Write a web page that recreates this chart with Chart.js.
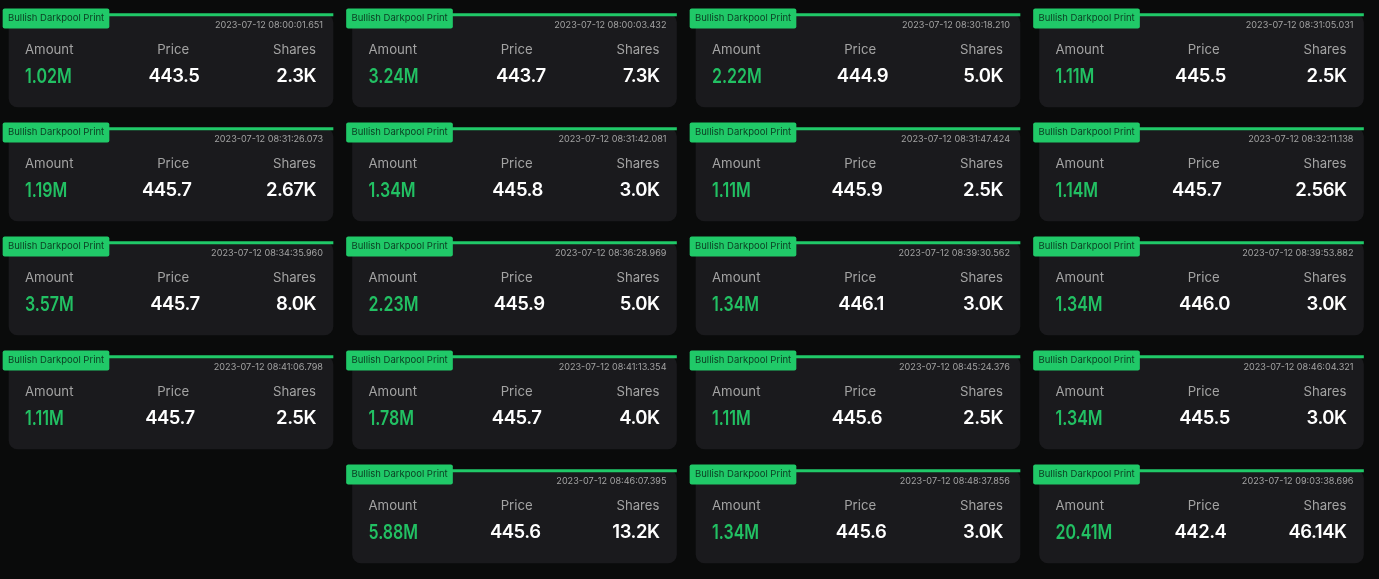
<!DOCTYPE html>
<html>
<head>
<meta charset="utf-8">
<title>Bullish Darkpool Prints</title>
<script src="https://cdn.jsdelivr.net/npm/chart.js@4"></script>
<style>
    html, body { margin: 0; background: #0a0b0b; overflow: hidden; }
    canvas { display: block; }
</style>
</head>
<body>
<canvas id="prints" width="1379" height="579"></canvas>
<script>
var badgeLabel = 'Bullish Darkpool Print';
var fieldLabels = ['Amount', 'Price', 'Shares'];

var times = [
    '2023-07-12 08:00:01.651', '2023-07-12 08:00:03.432', '2023-07-12 08:30:18.210', '2023-07-12 08:31:05.031',
    '2023-07-12 08:31:26.073', '2023-07-12 08:31:42.081', '2023-07-12 08:31:47.424', '2023-07-12 08:32:11.138',
    '2023-07-12 08:34:35.960', '2023-07-12 08:36:28.969', '2023-07-12 08:39:30.562', '2023-07-12 08:39:53.882',
    '2023-07-12 08:41:06.798', '2023-07-12 08:41:13.354', '2023-07-12 08:45:24.376', '2023-07-12 08:46:04.321',
    '2023-07-12 08:46:07.395', '2023-07-12 08:48:37.856', '2023-07-12 09:03:38.696'
];
var amounts = [
    '1.02M', '3.24M', '2.22M', '1.11M',
    '1.19M', '1.34M', '1.11M', '1.14M',
    '3.57M', '2.23M', '1.34M', '1.34M',
    '1.11M', '1.78M', '1.11M', '1.34M',
    '5.88M', '1.34M', '20.41M'
];
var prices = [
    '443.5', '443.7', '444.9', '445.5',
    '445.7', '445.8', '445.9', '445.7',
    '445.7', '445.9', '446.1', '446.0',
    '445.7', '445.7', '445.6', '445.5',
    '445.6', '445.6', '442.4'
];
var shares = [
    '2.3K', '7.3K', '5.0K', '2.5K',
    '2.67K', '3.0K', '2.5K', '2.56K',
    '8.0K', '5.0K', '3.0K', '3.0K',
    '2.5K', '4.0K', '2.5K', '3.0K',
    '13.2K', '3.0K', '46.14K'
];

// grid layout, in page pixels
var colPitch = 343.5;
var rowPitch = 114;
var perRow = 4;
var emptySlot = 16; // bottom left has no card

function cardOrigin(i) {
    var slot = i < emptySlot ? i : i + 1;
    return {
        x: (slot % perRow) * colPitch,
        y: Math.floor(slot / perRow) * rowPitch
    };
}

var cardBars = times.map(function (t, i) {
    var o = cardOrigin(i);
    return { x: o.x + 171, y: [o.y + 14, o.y + 107] };
});
var lineBars = times.map(function (t, i) {
    var o = cardOrigin(i);
    return { x: o.x + 220, y: [o.y + 13.7, o.y + 15.8] };
});
var badgeBars = times.map(function (t, i) {
    var o = cardOrigin(i);
    return { x: o.x + 56, y: [o.y + 8.8, o.y + 28.2] };
});

var fonts = {
    badge: '400 9.5px Inter',
    time: '400 9.1px Inter',
    label: '400 13.2px Inter',
    amount: '600 20px Inter',
    value: '600 18.5px Inter'
};
var amountSquash = 0.8;

function spread(ctx, left, right, texts, font) {
    // first hugs the left, last hugs the right, middle sits in the even gap
    ctx.font = font;
    var a = ctx.measureText(texts[0]).width;
    var b = ctx.measureText(texts[1]).width;
    var c = ctx.measureText(texts[2]).width;
    var gap = (right - left - a - b - c) / 2;
    return left + a + gap;
}

var cardText = {
    id: 'cardText',
    afterDatasetsDraw: function (chart) {
        var ctx = chart.ctx;
        var sx = chart.scales.x;
        var sy = chart.scales.y;
        ctx.save();
        ctx.textBaseline = 'middle';
        times.forEach(function (t, i) {
            var o = cardOrigin(i);
            var px = function (v) { return sx.getPixelForValue(o.x + v); };
            var py = function (v) { return sy.getPixelForValue(o.y + v); };

            ctx.textAlign = 'left';
            ctx.font = fonts.badge;
            ctx.fillStyle = '#0b3d22';
            ctx.fillText(badgeLabel, px(8), py(18.5));

            ctx.textAlign = 'right';
            ctx.font = fonts.time;
            ctx.fillStyle = '#a3a3a3';
            ctx.fillText(t, px(323), py(25));

            // label row
            var labelX = spread(ctx, px(25), px(316), fieldLabels, fonts.label);
            ctx.font = fonts.label;
            ctx.fillStyle = '#a3a3a3';
            ctx.textAlign = 'left';
            ctx.fillText(fieldLabels[0], px(25), py(50));
            ctx.fillText(fieldLabels[1], labelX, py(50));
            ctx.textAlign = 'right';
            ctx.fillText(fieldLabels[2], px(316), py(50));

            // value row
            ctx.font = fonts.amount;
            var aw = ctx.measureText(amounts[i]).width * amountSquash;
            ctx.font = fonts.value;
            ctx.letterSpacing = '-0.5px';
            var pw = ctx.measureText(prices[i]).width;
            var sw = ctx.measureText(shares[i]).width;
            var gap = (px(316) - px(25) - aw - pw - sw) / 2;

            ctx.textAlign = 'left';
            ctx.fillStyle = '#ffffff';
            ctx.fillText(prices[i], px(25) + aw + gap, py(76.5));
            ctx.textAlign = 'right';
            ctx.fillText(shares[i], px(316), py(76.5));
            ctx.letterSpacing = '0px';

            ctx.save();
            ctx.textAlign = 'left';
            ctx.font = fonts.amount;
            ctx.fillStyle = '#22c063';
            ctx.translate(px(25), py(77));
            ctx.scale(amountSquash, 1);
            ctx.fillText(amounts[i], 0, 0);
            ctx.restore();
        });
        ctx.restore();
    }
};

new Chart(document.getElementById('prints').getContext('2d'), {
    type: 'bar',
    data: {
        datasets: [
            { data: badgeBars, backgroundColor: '#20c968', barThickness: 106, borderRadius: 2, borderSkipped: false, grouped: false, order: 0 },
            { data: lineBars, backgroundColor: '#20c968', barThickness: 226, borderRadius: 0, borderSkipped: false, grouped: false, order: 1 },
            { data: cardBars, backgroundColor: '#1a1a1d', barThickness: 324, borderRadius: 9, borderSkipped: false, grouped: false, order: 2 }
        ]
    },
    options: {
        responsive: false,
        animation: false,
        layout: { padding: 0 },
        plugins: { legend: { display: false }, tooltip: { enabled: false } },
        scales: {
            x: { type: 'linear', display: false, offset: false, min: 0, max: 1379 },
            y: { type: 'linear', display: false, min: 0, max: 579, reverse: true }
        }
    },
    plugins: [cardText]
});
</script>
</body>
</html>
